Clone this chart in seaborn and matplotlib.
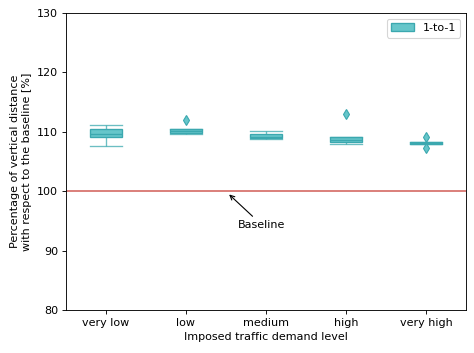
import pandas as pd
import matplotlib
matplotlib.use("Agg")
import matplotlib.pyplot as plt
import seaborn as sns

levels = ["very low", "low", "medium", "high", "very high"]
very_low = [107.6, 109.1, 109.2, 109.4, 109.6, 110.0, 110.4, 110.6, 111.1]
low = [109.6, 109.7, 109.8, 110.0, 110.1, 110.2, 110.4, 110.5, 112.0]
medium = [108.8, 108.8, 108.9, 109.0, 109.1, 109.3, 109.6, 109.9, 110.2]
high = [107.9, 108.1, 108.3, 108.4, 108.6, 108.8, 109.1, 109.2, 113.0]
very_high = [107.3, 107.9, 108.0, 108.05, 108.1, 108.2, 108.3, 108.3, 109.1]
setup = "1-to-1"
baseline = 100

rows = []
for lvl, vals in zip(levels, [very_low, low, medium, high, very_high]):
    for v in vals:
        rows.append({"level": lvl, "value": v, "setup": setup})
df = pd.DataFrame(rows)

fill = "#66c6ca"
edge = "#3ba8af"

fig = plt.figure(figsize=(5.925, 4.4125), dpi=80)
ax = fig.add_axes([0.139, 0.122, 0.844, 0.841])

sns.boxplot(data=df, x="level", y="value", hue="setup", order=levels,
            palette=[fill], saturation=1, width=0.4, linewidth=1.2, linecolor=edge,
            capwidths=0.4,
            whiskerprops=dict(color=edge, alpha=0.75),
            capprops=dict(color=edge, alpha=0.75),
            flierprops=dict(marker='d', markerfacecolor=fill, markeredgecolor=edge, markersize=7),
            ax=ax)

ax.axhline(baseline, color="#d46a64", lw=1.5)
ax.annotate("Baseline", xy=(1.52, 99.7), xytext=(1.95, 94.3),
            ha="center", va="center",
            arrowprops=dict(arrowstyle="->", color="black", lw=1))

ax.set_ylim(80, 130)
ax.set_xlim(-0.5, 4.5)
ax.set_xlabel("Imposed traffic demand level")
ax.set_ylabel("Percentage of vertical distance\nwith respect to the baseline [%]")
ax.yaxis.set_label_coords(-0.085, 0.5)
ax.legend(loc="upper right")

fig.savefig("out.png", dpi=80)
